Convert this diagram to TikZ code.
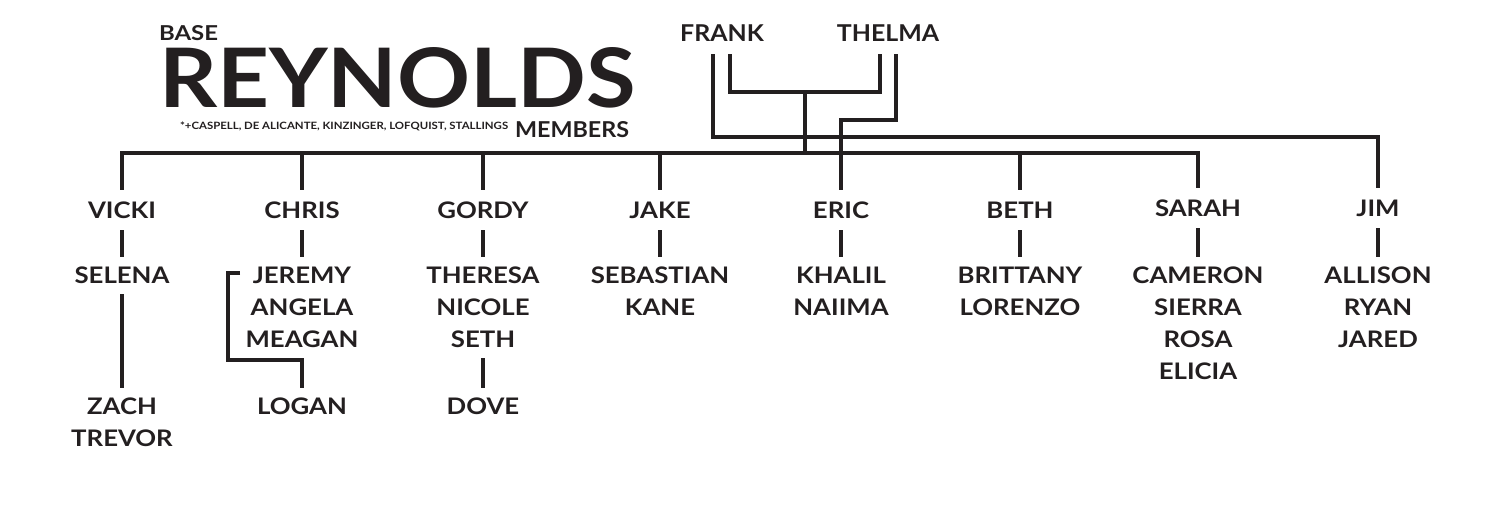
\documentclass[tikz,border=0pt]{standalone}
\usepackage{fontspec}
\setmainfont{Lato}[FakeStretch=1.13]
\usetikzlibrary{calc}
\definecolor{ink}{HTML}{231F20}
\begin{document}
\begin{tikzpicture}[x=0.5pt,y=-0.5pt,
  line width=2.1pt, draw=ink, text=ink,
  title/.style={anchor=base west, inner sep=0pt, font=\bfseries},
  parent/.style={font=\bfseries\fontsize{11.6}{16}\selectfont, text height=8.5pt, text depth=0pt, inner xsep=0pt, inner ysep=5.25pt},
  child/.style={font=\bfseries\fontsize{11.4}{16}\selectfont, text height=8pt, text depth=0pt, inner xsep=0pt, inner ysep=5pt},
  kids/.style={anchor=north, align=center, font=\bfseries\fontsize{11.4}{16}\selectfont, inner xsep=0pt, inner ysep=4pt}
]
\useasboundingbox[fill=white] (0,0) rectangle (1500,509);

% title
\node[title] (base) at (157,40) {\resizebox{29.5pt}{7.5pt}{BASE}};
\node[title] (rey) at (157,107) {\resizebox{238.5pt}{30pt}{REYNOLDS}};
\node[title] (note) at (178,129) {\resizebox{164pt}{!}{*+CASPELL, DE ALICANTE, KINZINGER, LOFQUIST, STALLINGS}};
\node[title] (mem) at (513,137) {\resizebox{57pt}{8pt}{MEMBERS}};

% grandparents
\node[parent] (frank) at (722,33) {\scalebox{0.95}[1]{FRANK}};
\node[parent] (thelma) at (888,33) {\scalebox{0.95}[1]{THELMA}};

% children
\node[child] (vicki) at (122,210) {VICKI};
\node[child] (chris) at (302,210) {CHRIS};
\node[child] (gordy) at (483,210) {GORDY};
\node[child] (jake) at (660,210) {JAKE};
\node[child] (eric) at (841,210) {ERIC};
\node[child] (beth) at (1020,210) {BETH};
\node[child] (sarah) at (1198,208) {SARAH};
\node[child] (jim) at (1378,208) {JIM};

% grandchildren
\node[kids] (vickik) at (122,257) {SELENA};
\node[kids] (chrisk) at (302,257) {JEREMY\\ANGELA\\MEAGAN};
\node[kids] (gordyk) at (483,257) {THERESA\\NICOLE\\SETH};
\node[kids] (jakek) at (660,257) {SEBASTIAN\\KANE};
\node[kids] (erick) at (841,257) {KHALIL\\NAIIMA};
\node[kids] (bethk) at (1020,257) {BRITTANY\\LORENZO};
\node[kids] (sarahk) at (1198,257) {CAMERON\\SIERRA\\ROSA\\ELICIA};
\node[kids] (jimk) at (1378,257) {ALLISON\\RYAN\\JARED};

% great-grandchildren
\node[kids] (vickigk) at (122,388) {ZACH\\TREVOR};
\node[kids] (logan) at (302,388) {LOGAN};
\node[kids] (dove) at (483,388) {DOVE};
\coordinate (brk) at (240,273);

% Frank & Thelma
\draw ($(frank.south)+(8,0)$) -- ++(0,38) -| ($(thelma.south)+(-8,0)$);
\coordinate (mid) at ($(frank.south)!0.5!(thelma.south)+(0,38)$);
\draw (mid) -- ++(0,61) coordinate (bus);
\draw (vicki.north) |- (bus) -| (sarah.north);
\foreach \c in {chris,gordy,jake,beth}
  \draw (\c.north) -- (\c.north |- bus);
% Frank's other line to Jim
\draw ($(frank.south)+(-9,0)$) -- ++(0,83) -| (jim.north);
% Thelma's other line to Eric
\draw ($(thelma.south)+(8,0)$) -- ++(0,66) -| (eric.north);

% children to grandchildren
\foreach \c in {vicki,chris,gordy,jake,eric,beth,sarah,jim}
  \draw (\c.south) -- (\c k.north);

% grandchildren to great-grandchildren
\draw (vickik.south) -- (vickigk.north);
\draw (gordyk.south) -- (dove.north);
\draw (brk) -- ++(-12,0) |- ($(logan.north)+(0,-28)$) -- (logan.north);
\end{tikzpicture}
\end{document}
